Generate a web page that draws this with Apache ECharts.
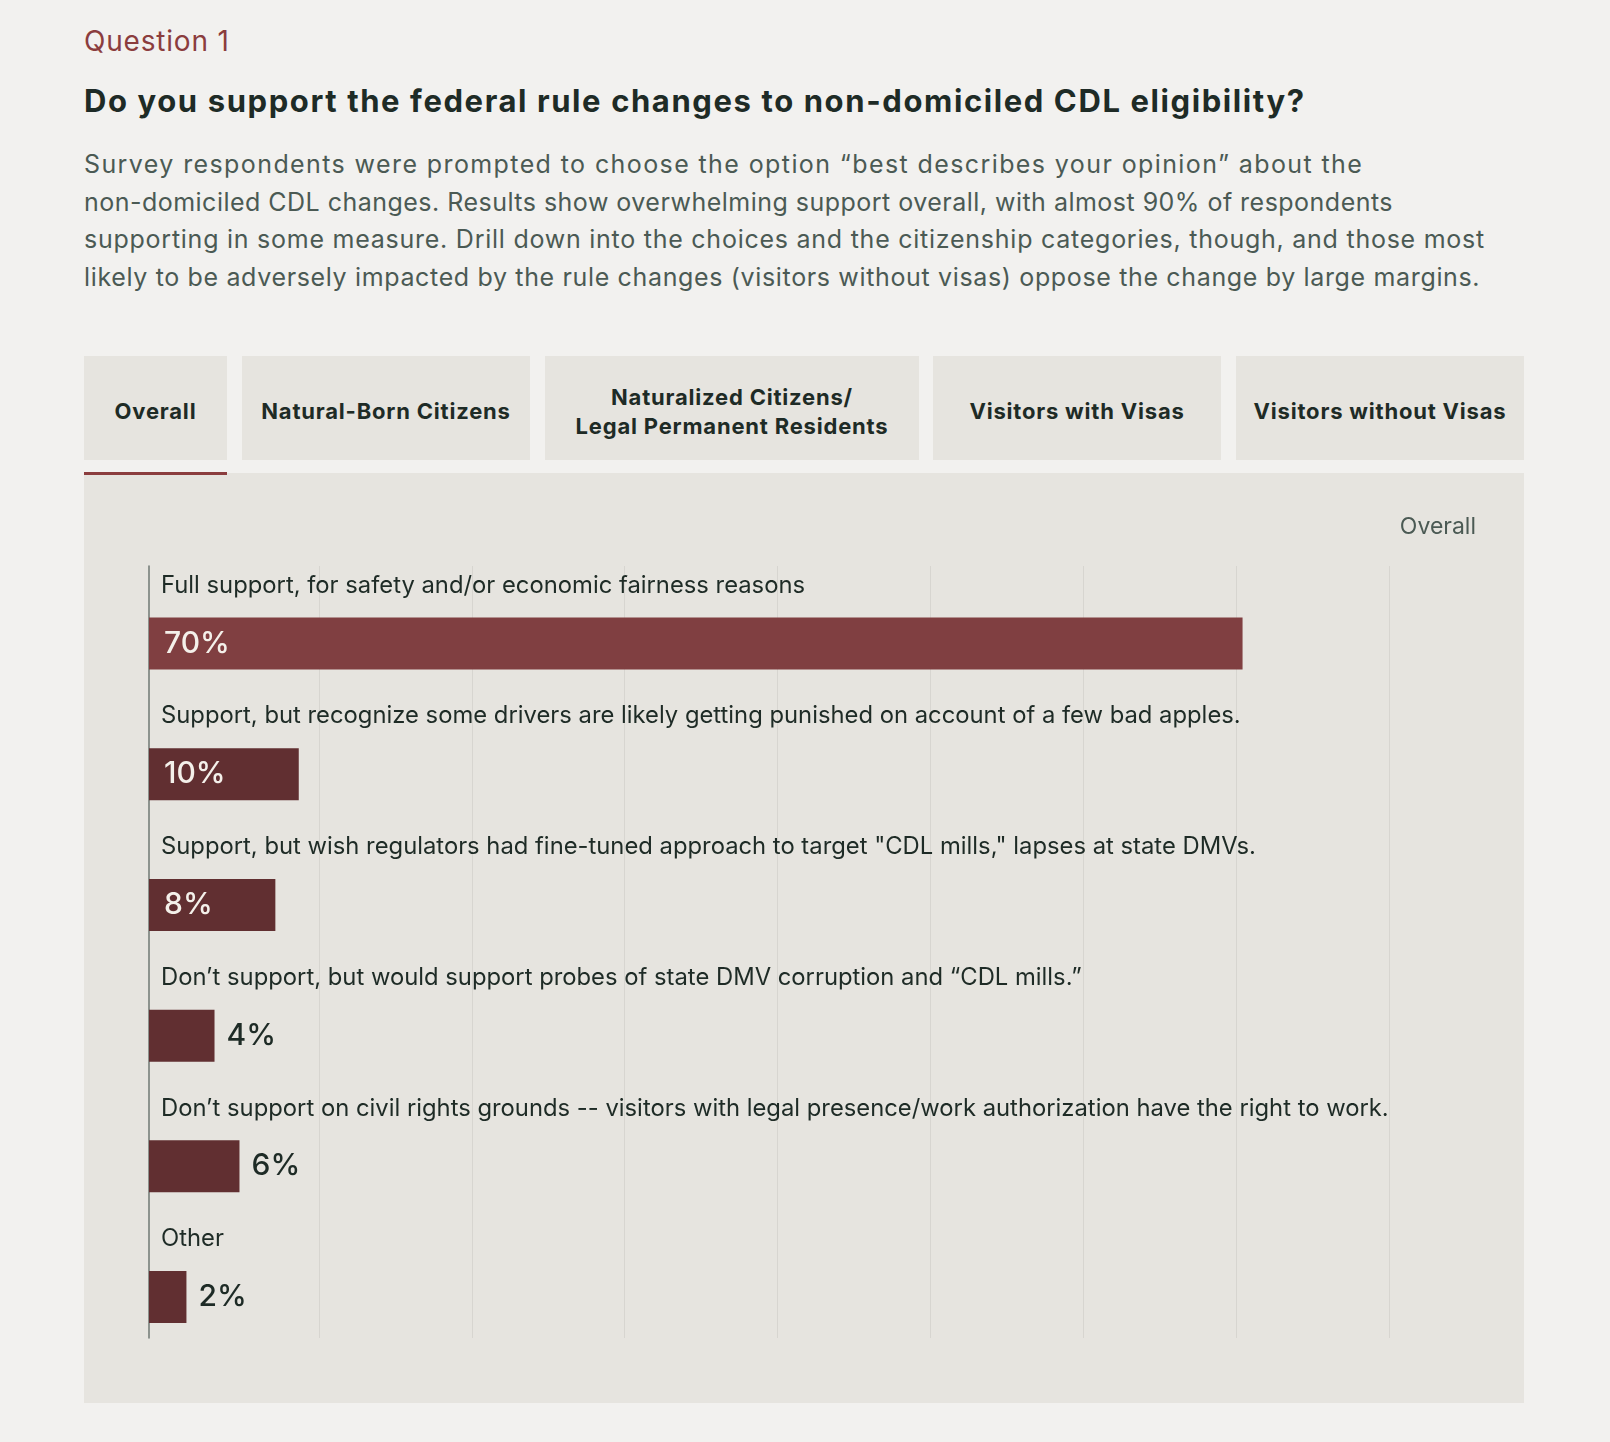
<!DOCTYPE html>
<html>
<head>
<meta charset="utf-8">
<script src="https://cdn.jsdelivr.net/npm/echarts@6/dist/echarts.min.js"></script>
<style>
  body {
    margin: 0;
    width: 1610px;
    height: 1442px;
    position: relative;
    background: #f2f1ef;
    font-family: Inter, "Noto Sans", sans-serif;
    overflow: hidden;
  }
  .abs { position: absolute; white-space: nowrap; }
  .eyebrow { left: 84px; top: 21px; font-size: 28px; line-height: 40px; letter-spacing: 0.8px; color: #8b3d3e; }
  .title { left: 84px; top: 81px; font-size: 31px; line-height: 40px; letter-spacing: 1.6px; font-weight: 700; color: #1e2b26; }
  .intro { left: 84px; top: 146px; font-size: 25px; line-height: 37.6px; color: #4b5a54; }
  .intro div { white-space: nowrap; }
  .tab {
    position: absolute;
    top: 356px;
    height: 104px;
    background: #e6e4df;
    display: flex;
    align-items: center;
    justify-content: center;
    text-align: center;
    font-size: 22px;
    line-height: 29px;
    letter-spacing: 0.8px;
    font-weight: 700;
    color: #1e2b26;
    padding-top: 7px;
    box-sizing: border-box;
  }
  .panel { position: absolute; left: 84px; top: 473px; width: 1440px; height: 930px; background: #e6e4df; }
  .underline { position: absolute; left: 84px; top: 472px; width: 143px; height: 3px; background: #8b3d3e; }
</style>
</head>
<body>
<div class="abs eyebrow">Question 1</div>
<div class="abs title">Do you support the federal rule changes to non-domiciled CDL eligibility?</div>
<div class="abs intro">
  <div style="letter-spacing:1.4px;">Survey respondents were prompted to choose the option “best describes your opinion” about the</div>
  <div style="letter-spacing:0.48px;">non-domiciled CDL changes. Results show overwhelming support overall, with almost 90% of respondents</div>
  <div style="letter-spacing:0.75px;">supporting in some measure. Drill down into the choices and the citizenship categories, though, and those most</div>
  <div style="letter-spacing:0.65px;">likely to be adversely impacted by the rule changes (visitors without visas) oppose the change by large margins.</div>
</div>

<div class="tab" style="left:84px;width:143px;">Overall</div>
<div class="tab" style="left:242px;width:288px;">Natural-Born Citizens</div>
<div class="tab" style="left:545px;width:374px;">Naturalized Citizens/<br>Legal Permanent Residents</div>
<div class="tab" style="left:933px;width:288px;">Visitors with Visas</div>
<div class="tab" style="left:1236px;width:288px;">Visitors without Visas</div>

<div class="panel" id="chart"></div>
<div class="underline"></div>

<script>
// Answer options, top to bottom
const answers = [
    'Full support, for safety and/or economic fairness reasons',
    'Support, but recognize some drivers are likely getting punished on account of a few bad apples.',
    'Support, but wish regulators had fine-tuned approach to target "CDL mills," lapses at state DMVs.',
    'Don’t support, but would support probes of state DMV corruption and “CDL mills.”',
    'Don’t support on civil rights grounds -- visitors with legal presence/work authorization have the right to work.',
    'Other'
];

// Share of respondents (%)
const shares = [70.1, 9.6, 8.1, 4.2, 5.8, 2.4];

// Labels printed on the bars
const shareLabels = ['70%', '10%', '8%', '4%', '6%', '2%'];

// Background guide lines (decorative, evenly spaced)
const guideCount = 8;

const topColor = '#803f41';
const restColor = '#612f31';
const inkColor = '#1e2b26';

const chart = echarts.init(document.getElementById('chart'));

// Labels sit inside the bar when there is room, otherwise to the right
const barData = shares.map((v, i) => {
    const inside = v >= 8;
    return {
        value: v,
        itemStyle: { color: i === 0 ? topColor : restColor },
        label: inside
            ? { position: 'insideLeft', distance: 15, color: '#f4f0ea' }
            : { position: 'right', distance: 12, color: inkColor }
    };
});

chart.setOption({
    backgroundColor: '#e6e4df',
    animation: false,
    title: {
        text: 'Overall',
        right: 48,
        top: 42,
        padding: 0,
        textStyle: { fontFamily: 'Inter', fontSize: 23, fontWeight: 'normal', color: '#4b5a54', lineHeight: 24 }
    },
    grid: [
        // bars
        { left: 65, top: 105.2, width: 1248, height: 784.2 },
        // guide lines + axis line
        { left: 82, top: 93, width: 1223.2, height: 772 }
    ],
    xAxis: [
        {
            gridIndex: 0, type: 'value', min: 0, max: 80,
            axisLine: { show: false }, axisTick: { show: false },
            axisLabel: { show: false }, splitLine: { show: false }
        },
        {
            gridIndex: 1, type: 'value', min: 0, max: guideCount, interval: 1,
            axisLine: { show: false }, axisTick: { show: false }, axisLabel: { show: false },
            splitLine: { show: true, showMinLine: false, lineStyle: { color: '#d7d5d0', width: 1 } }
        }
    ],
    yAxis: [
        {
            gridIndex: 0, type: 'category', data: answers, inverse: true,
            axisLine: { show: false }, axisTick: { show: false },
            axisLabel: {
                inside: true,
                margin: 12,
                align: 'left',
                verticalAlign: 'bottom',
                padding: [0, 0, 46, 0],
                lineHeight: 24,
                fontFamily: 'Inter',
                fontSize: 23.8,
                color: inkColor
            }
        },
        {
            gridIndex: 1, type: 'value', min: 0, max: 1, offset: 17, position: 'left',
            axisLine: { show: true, onZero: false, lineStyle: { color: '#6f7873', width: 1.5 } },
            axisTick: { show: false }, axisLabel: { show: false }, splitLine: { show: false }
        }
    ],
    series: [
        {
            type: 'bar',
            xAxisIndex: 0,
            yAxisIndex: 0,
            barWidth: 52,
            data: barData,
            z: 3,
            label: {
                show: true,
                fontFamily: 'Inter',
                fontSize: 30,
                fontWeight: 500,
                formatter: p => shareLabels[p.dataIndex]
            }
        }
    ]
});
</script>
</body>
</html>
